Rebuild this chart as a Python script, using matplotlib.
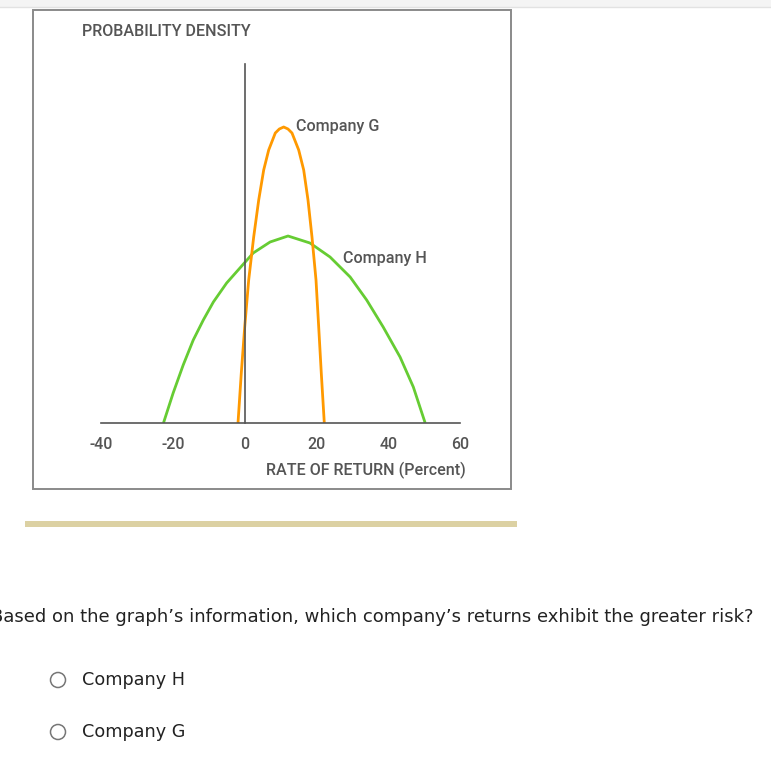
import matplotlib
matplotlib.use("Agg")
import matplotlib.pyplot as plt
from matplotlib.patches import Rectangle, Ellipse

# values (density in arbitrary units)
return_ticks = [-40, -20, 0, 20, 40, 60]
tick_labels = ["-40", "-20", "0", "20", "40", "60"]

g_return = [-1.84, -0.92, 0.03, 1.14, 2.53, 3.93, 5.32, 6.71, 8.55, 9.67, 10.89,
            12.09, 13.2, 15.07, 16.46, 17.66, 18.77, 19.89, 20.64, 21.36, 22.2]
g_density = [0, 50, 96, 143, 186, 223, 253, 273, 290, 294, 296,
             294, 290, 273, 253, 223, 186, 143, 96, 50, 0]

h_return = [-22.6, -19.9, -17.1, -14.3, -11.5, -8.7, -5.0, -1.3, 2.4, 7.1, 12.1,
            18.2, 23.8, 29.4, 34.0, 38.6, 43.3, 47.0, 50.3]
h_density = [0, 30, 58, 83, 103, 121, 140, 155, 170, 181, 187,
             180, 166, 146, 123, 96, 66, 36, 0]

question = "Based on the graph\u2019s information, which company\u2019s returns exhibit the greater risk?"
options = ["Company H", "Company G"]

W, H = 771, 766
fig = plt.figure(figsize=(W / 100, H / 100), dpi=100)


def fx(px):
    return px / W


def fy(py):
    return 1 - py / H


# page decorations
fig.patches.append(Rectangle((0, fy(7)), 1, 7 / H, transform=fig.transFigure,
                             facecolor="#f4f4f4", edgecolor="none"))
fig.lines.append(plt.Line2D([0, 1], [fy(7), fy(7)], transform=fig.transFigure,
                            color="#e2e2e2", lw=1))
fig.patches.append(Rectangle((fx(33), fy(489)), (511 - 33) / W, (489 - 10) / H,
                             transform=fig.transFigure, facecolor="none",
                             edgecolor="#8a8a8a", lw=1.4))
fig.patches.append(Rectangle((fx(25), fy(527)), (517 - 25) / W, 6 / H,
                             transform=fig.transFigure, facecolor="#dcd1a3",
                             edgecolor="none"))

# chart
ax = fig.add_axes([fx(101), fy(423), 359 / W, 359 / H])
ax.set_zorder(2)
ax.set_xlim(-40, 60)
ax.set_ylim(0, 359)
ax.patch.set_alpha(0)
ax.plot(h_return, h_density, color="#66cc33", lw=2.0, solid_capstyle="butt",
        solid_joinstyle="round")
ax.plot(g_return, g_density, color="#ff9900", lw=2.0, solid_capstyle="butt",
        solid_joinstyle="round")

for s in ["top", "right"]:
    ax.spines[s].set_visible(False)
ax.spines["left"].set_position(("data", 0))
ax.spines["left"].set_color("#555555")
ax.spines["bottom"].set_color("#555555")
ax.spines["left"].set_linewidth(1.2)
ax.spines["bottom"].set_linewidth(1.2)
ax.set_yticks([])
ax.set_xticks(return_ticks)
ax.set_xticklabels(tick_labels, family="Roboto", fontsize=11.5, weight="medium",
                   color="#555555")
ax.tick_params(axis="x", length=0, pad=10)

txt = dict(family="Roboto", fontsize=11.6, weight="medium", color="#555555", va="center")
fig.text(fx(82), fy(31), "PROBABILITY DENSITY", ha="left", **txt)
fig.text(fx(296), fy(127), "Company G", ha="left", **txt)
fig.text(fx(343), fy(258), "Company H", ha="left", **txt)
fig.text(fx(466), fy(470), "RATE OF RETURN (Percent)", ha="right", **txt)

# question part (left edge cut off as in the source screenshot)
fig.text(fx(-9), fy(617), question, ha="left", va="center",
         family="DejaVu Sans", fontsize=12.95, color="#222222")
for i, opt in enumerate(options):
    y = 680 + i * 52
    fig.patches.append(Ellipse((fx(58), fy(y)), 15 / W, 15 / H,
                               transform=fig.transFigure, facecolor="white",
                               edgecolor="#767676", lw=1.1))
    fig.text(fx(82), fy(y), opt, ha="left", va="center",
             family="DejaVu Sans", fontsize=12.7, color="#222222")

fig.savefig("out.png", dpi=100)
